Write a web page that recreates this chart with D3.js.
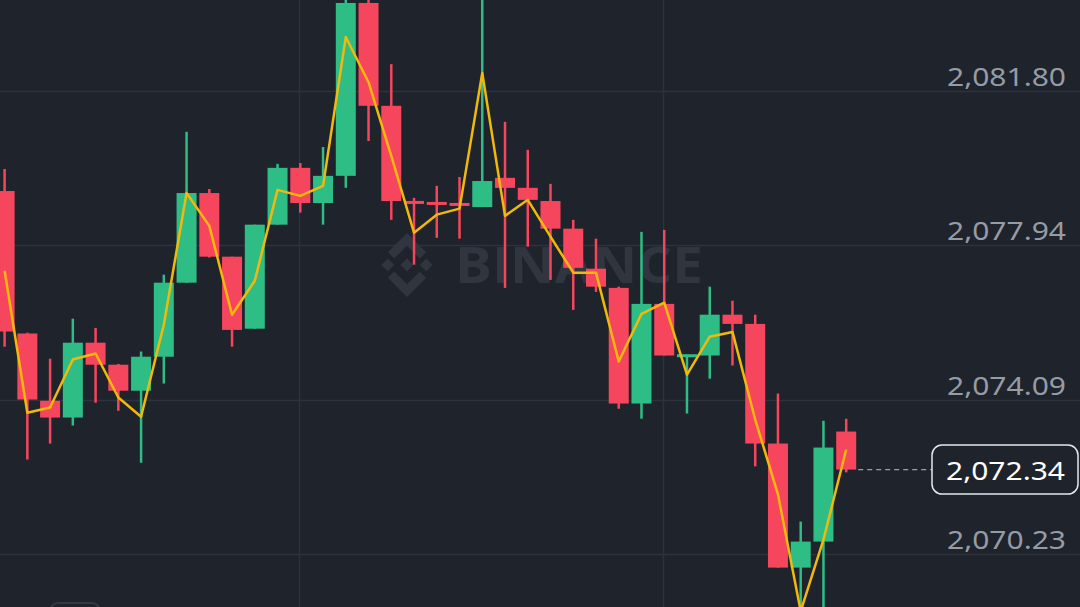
<!DOCTYPE html>
<html>
<head>
<meta charset="utf-8">
<script src="https://cdn.jsdelivr.net/npm/d3@7"></script>
<style>
  html, body { margin: 0; padding: 0; background: #1f232c; overflow: hidden; }
  svg { display: block; }
</style>
</head>
<body>
<div id="chart"></div>
<script>
// canvas
var w = 1080;
var h = 607;

// OHLC, one entry per candle
var open  = [2079.30, 2075.74, 2074.06, 2073.64, 2075.51, 2074.96, 2074.31, 2075.16, 2077.01, 2079.25,
             2077.66, 2075.86, 2078.46, 2079.88, 2079.00, 2079.68, 2084.00, 2081.43, 2079.03, 2079.00,
             2078.98, 2078.90, 2079.63, 2079.38, 2079.05, 2078.36, 2077.36, 2076.88, 2073.99, 2076.48,
             2075.16, 2075.19, 2076.21, 2075.98, 2072.99, 2069.89, 2070.54, 2073.29];
var high  = [2079.85, 2075.76, 2075.11, 2076.11, 2075.88, 2074.98, 2075.29, 2077.21, 2080.78, 2079.35,
             2077.66, 2078.46, 2079.98, 2080.00, 2080.40, 2084.30, 2084.10, 2082.47, 2079.13, 2079.43,
             2079.65, 2084.30, 2081.03, 2080.33, 2079.48, 2078.58, 2078.11, 2076.91, 2078.28, 2078.33,
             2075.21, 2076.91, 2076.56, 2076.21, 2074.24, 2071.04, 2073.56, 2073.61];
var low   = [2075.41, 2072.59, 2072.99, 2073.44, 2074.01, 2073.81, 2072.51, 2074.49, 2077.01, 2077.64,
             2075.41, 2075.86, 2078.46, 2078.76, 2078.46, 2079.38, 2080.55, 2078.58, 2077.46, 2078.13,
             2078.11, 2078.90, 2076.88, 2077.91, 2077.08, 2076.33, 2076.78, 2073.86, 2073.61, 2075.19,
             2073.74, 2074.61, 2074.94, 2072.42, 2069.89, 2068.50, 2068.50, 2072.27];
var close = [2075.79, 2074.09, 2073.64, 2075.51, 2074.96, 2074.31, 2075.16, 2077.01, 2079.25, 2077.66,
             2075.83, 2078.46, 2079.88, 2079.00, 2079.68, 2084.00, 2081.43, 2079.05, 2079.00, 2078.98,
             2078.95, 2079.55, 2079.38, 2079.08, 2078.36, 2077.38, 2076.91, 2073.99, 2076.48, 2075.19,
             2075.21, 2076.21, 2075.98, 2072.99, 2069.89, 2070.54, 2072.89, 2072.34];

// yellow moving average line
var ma    = [2077.31, 2073.76, 2073.89, 2075.09, 2075.24, 2074.14, 2073.66, 2075.96, 2079.25, 2078.43,
             2076.21, 2077.06, 2079.33, 2079.18, 2079.43, 2083.15, 2082.02, 2080.18, 2078.26, 2078.71,
             2078.86, 2082.25, 2078.68, 2079.08, 2078.16, 2077.26, 2077.26, 2075.04, 2076.23, 2076.51,
             2074.71, 2075.66, 2075.78, 2073.59, 2071.72, 2068.80, 2070.59, 2072.84];

// price axis ticks
var priceTicks = [2070.23, 2074.09, 2077.94, 2081.80];
var lastPrice = 2072.34;
// candles where the vertical grid lines sit
var timeGridIdx = [13, 29];

var candles = open.map(function(o, i) {
    return { i: i, open: o, high: high[i], low: low[i], close: close[i], ma: ma[i] };
});

var green = "#2ebd85";
var red = "#f6465d";
var gridColor = "#2d323c";

// scales
var xScale = d3.scaleLinear()
               .domain([0, candles.length - 1])
               .range([4.6, 846.2]);

var yScale = d3.scaleLinear()
               .domain([2070.23, 2081.80])
               .range([554, 91]);

var bodyW = 20;

var svg = d3.select("#chart")
            .append("svg")
            .attr("width", w)
            .attr("height", h);

svg.append("rect")
   .attr("width", w)
   .attr("height", h)
   .attr("fill", "#1f232c");

// horizontal grid
svg.append("g")
   .selectAll("line")
   .data(priceTicks)
   .join("line")
   .attr("x1", 0)
   .attr("x2", w)
   .attr("y1", d => Math.round(yScale(d)) + 0.5)
   .attr("y2", d => Math.round(yScale(d)) + 0.5)
   .attr("stroke", gridColor)
   .attr("stroke-width", 1.5);

// vertical grid
svg.append("g")
   .selectAll("line")
   .data(timeGridIdx)
   .join("line")
   .attr("x1", d => Math.round(xScale(d)) - 0.5)
   .attr("x2", d => Math.round(xScale(d)) - 0.5)
   .attr("y1", 0)
   .attr("y2", h)
   .attr("stroke", gridColor)
   .attr("stroke-width", 1.5);

// watermark
var wm = svg.append("g")
            .attr("transform", "translate(407,265) scale(32)")
            .attr("fill", "#30353f");
var logo = [
    [[0,-0.2],[0.2,0],[0,0.2],[-0.2,0]],
    [[-0.6,-0.2],[-0.4,0],[-0.6,0.2],[-0.8,0]],
    [[0.6,-0.2],[0.8,0],[0.6,0.2],[0.4,0]],
    [[0,-1],[0.6,-0.4],[0.4,-0.2],[0,-0.6],[-0.4,-0.2],[-0.6,-0.4]],
    [[0,1],[0.6,0.4],[0.4,0.2],[0,0.6],[-0.4,0.2],[-0.6,0.4]]
];
wm.selectAll("polygon")
  .data(logo)
  .join("polygon")
  .attr("points", d => d.map(p => p.join(",")).join(" "));

svg.append("text")
   .attr("x", 455)
   .attr("y", 283)
   .attr("font-family", "'Open Sans', 'DejaVu Sans', sans-serif")
   .attr("font-weight", 700)
   .attr("font-size", 50)
   .attr("textLength", 248)
   .attr("lengthAdjust", "spacingAndGlyphs")
   .attr("fill", "#30353f")
   .text("BINANCE");

// wicks
svg.append("g")
   .selectAll("line")
   .data(candles)
   .join("line")
   .attr("x1", d => xScale(d.i))
   .attr("x2", d => xScale(d.i))
   .attr("y1", d => yScale(d.high))
   .attr("y2", d => yScale(d.low))
   .attr("stroke", d => d.close > d.open ? green : red)
   .attr("stroke-width", 2.5);

// bodies
svg.append("g")
   .selectAll("rect")
   .data(candles)
   .join("rect")
   .attr("x", d => xScale(d.i) - bodyW / 2)
   .attr("width", bodyW)
   .attr("y", d => {
       var top = yScale(Math.max(d.open, d.close));
       var hgt = Math.abs(yScale(d.open) - yScale(d.close));
       return hgt < 3 ? (top + hgt / 2 - 1.5) : top;
   })
   .attr("height", d => Math.max(3, Math.abs(yScale(d.open) - yScale(d.close))))
   .attr("fill", d => d.close > d.open ? green : red);

// MA line
var line = d3.line()
             .x(d => xScale(d.i))
             .y(d => yScale(d.ma));

svg.append("path")
   .datum(candles)
   .attr("d", line)
   .attr("fill", "none")
   .attr("stroke", "#f0b90b")
   .attr("stroke-width", 2.5)
   .attr("stroke-linejoin", "round");

// price labels
svg.append("g")
   .selectAll("text")
   .data(priceTicks)
   .join("text")
   .attr("x", 1066)
   .attr("y", d => yScale(d) - 5)
   .attr("text-anchor", "end")
   .attr("font-family", "'Noto Sans', 'Open Sans', sans-serif")
   .attr("font-size", 26)
   .attr("textLength", 119)
   .attr("lengthAdjust", "spacingAndGlyphs")
   .attr("fill", "#969ca6")
   .text(d => d3.format(",.2f")(d));

// last price marker
var lastY = yScale(lastPrice);
svg.append("line")
   .attr("x1", xScale(candles.length - 1) + bodyW / 2 + 2)
   .attr("x2", 932)
   .attr("y1", lastY)
   .attr("y2", lastY)
   .attr("stroke", "#9aa0aa")
   .attr("stroke-width", 1.2)
   .attr("stroke-dasharray", "5,4");

svg.append("rect")
   .attr("x", 932)
   .attr("y", lastY - 24.5)
   .attr("width", 146)
   .attr("height", 49)
   .attr("rx", 10)
   .attr("fill", "#1f232c")
   .attr("stroke", "#e6e8eb")
   .attr("stroke-width", 1.5);

svg.append("text")
   .attr("x", 1065)
   .attr("y", lastY + 10)
   .attr("text-anchor", "end")
   .attr("font-family", "'Noto Sans', 'Open Sans', sans-serif")
   .attr("font-size", 26)
   .attr("textLength", 119)
   .attr("lengthAdjust", "spacingAndGlyphs")
   .attr("fill", "#ffffff")
   .text(d3.format(",.2f")(lastPrice));

// cut-off button at the bottom left
svg.append("rect")
   .attr("x", 50)
   .attr("y", 603)
   .attr("width", 50)
   .attr("height", 30)
   .attr("rx", 8)
   .attr("fill", "none")
   .attr("stroke", "#343a44")
   .attr("stroke-width", 2);
</script>
</body>
</html>
